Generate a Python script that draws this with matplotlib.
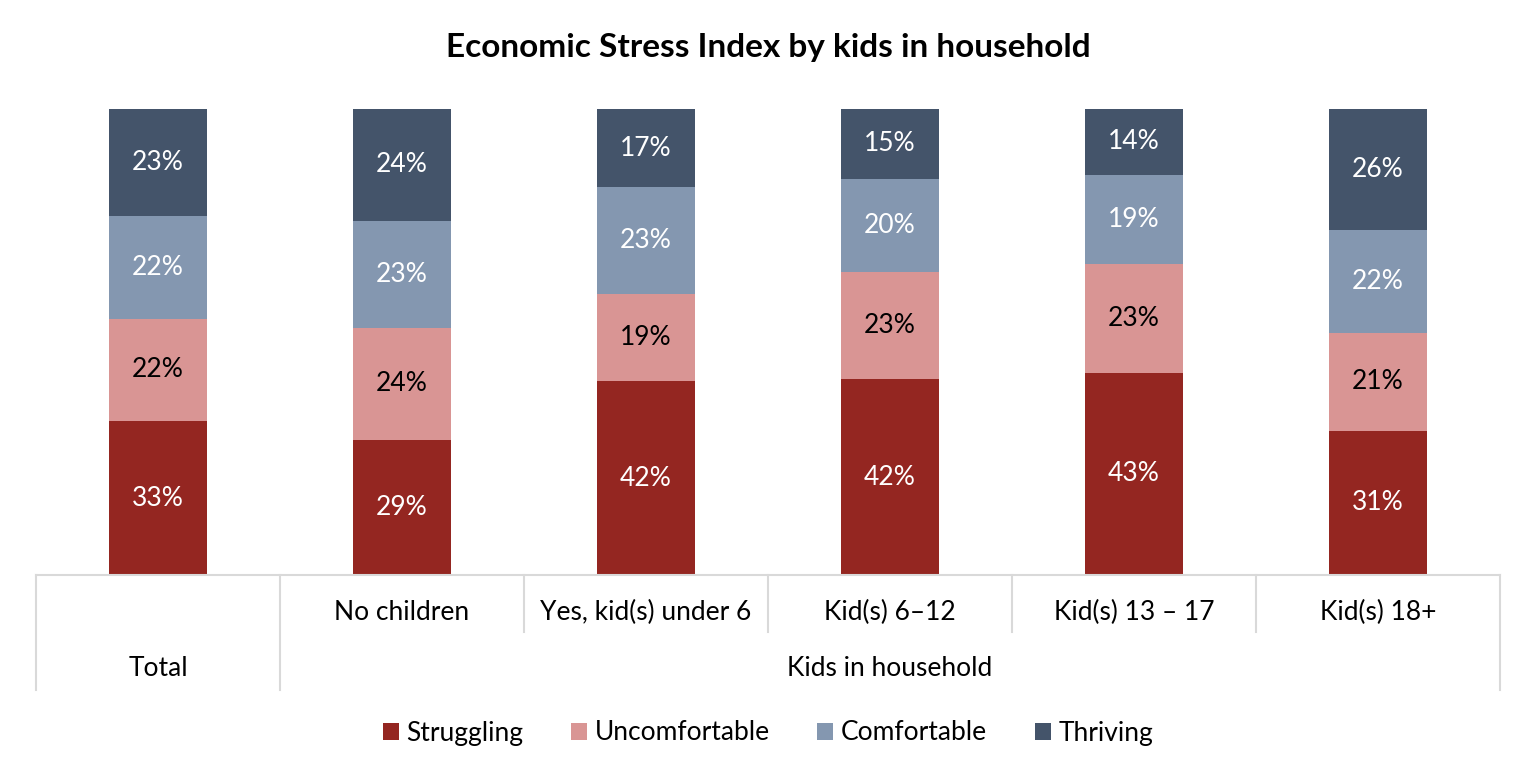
import matplotlib.pyplot as plt
import matplotlib.transforms as mtransforms
from matplotlib.patches import Patch
import numpy as np

plt.rcParams['font.family'] = ['Lato', 'DejaVu Sans']

# Data
categories = ['Total', 'No children', 'Yes, kid(s) under 6', 'Kid(s) 6\u201312',
              'Kid(s) 13 \u2013 17', 'Kid(s) 18+']
series = ['Struggling', 'Uncomfortable', 'Comfortable', 'Thriving']
struggling = [33, 29, 42, 42, 43, 31]
uncomfortable = [22, 24, 19, 23, 23, 21]
comfortable = [22, 23, 23, 20, 19, 22]
thriving = [23, 24, 17, 15, 14, 26]
colors = ['#942621', '#D99594', '#8497B0', '#44546A']
text_colors = ['white', 'black', 'white', 'white']

values = np.array([struggling, uncomfortable, comfortable, thriving], dtype=float)
shares = values / values.sum(axis=0)

fig = plt.figure(figsize=(15.36, 7.81), dpi=100)
ax = fig.add_axes([36 / 1536, 1 - 575 / 781, (1500 - 36) / 1536, (575 - 109) / 781])

x = np.arange(len(categories))
bottom = np.zeros(len(categories))
for i, name in enumerate(series):
    ax.bar(x, shares[i], 0.4, bottom=bottom, color=colors[i], label=name)
    for j in range(len(categories)):
        ax.text(x[j], bottom[j] + shares[i][j] / 2, f'{int(values[i][j])}%',
                ha='center', va='center', color=text_colors[i], fontsize=19)
    bottom += shares[i]

ax.set_xlim(-0.5, len(categories) - 0.5)
ax.set_ylim(0, 1)
ax.set_xticks([])
ax.set_yticks([])
for s in ['top', 'left', 'right']:
    ax.spines[s].set_visible(False)
ax.spines['bottom'].set_color('#d9d9d9')
ax.spines['bottom'].set_linewidth(1.5)

# Category axis with grouping
trans = mtransforms.blended_transform_factory(ax.transData, ax.transAxes)
full = -(690 - 575) / 466
short = -(632 - 575) / 466
line_kw = dict(color='#d9d9d9', lw=1.5, clip_on=False, transform=trans)
for xb in [-0.5, 0.5, 5.5]:
    ax.plot([xb, xb], [0, full], **line_kw)
for xb in [1.5, 2.5, 3.5, 4.5]:
    ax.plot([xb, xb], [0, short], **line_kw)

for j in range(1, len(categories)):
    ax.text(x[j], -(612 - 575) / 466, categories[j], ha='center', va='center',
            fontsize=19, transform=trans)
ax.text(x[0], -(669 - 575) / 466, categories[0], ha='center', va='center',
        fontsize=19, transform=trans)
ax.text(3, -(669 - 575) / 466, 'Kids in household', ha='center', va='center',
        fontsize=19, transform=trans)

fig.text(0.5, 1 - 48 / 781, 'Economic Stress Index by kids in household',
         ha='center', va='center', fontsize=24, fontweight='bold')

handles = [Patch(facecolor=c, label=n) for c, n in zip(colors, series)]
fig.legend(handles=handles, loc='center', bbox_to_anchor=(0.5, 1 - 733 / 781),
           ncol=4, frameon=False, fontsize=19, handlelength=0.6, handleheight=0.6,
           handletextpad=0.3, columnspacing=1.8)

fig.savefig('out.png', dpi=100)
plt.close('all')
